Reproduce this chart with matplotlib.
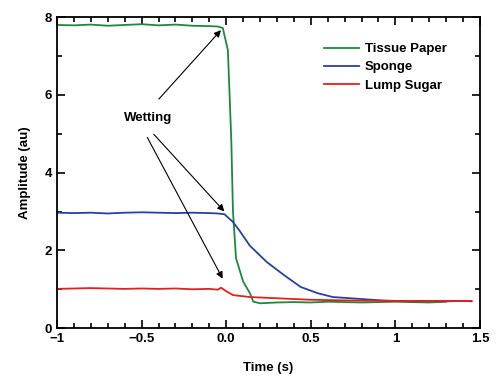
import matplotlib.pyplot as plt
from matplotlib.ticker import MultipleLocator

plt.rcParams['font.family'] = ['Liberation Sans', 'DejaVu Sans']
plt.rcParams['font.weight'] = 'bold'

# Data
t_tissue = [-1.0, -0.9, -0.8, -0.7, -0.6, -0.5, -0.4, -0.3, -0.2, -0.1, -0.05, -0.02,
            0.01, 0.03, 0.04, 0.058, 0.1, 0.14, 0.16, 0.2, 0.3, 0.4, 0.5, 0.6, 0.7,
            0.8, 0.9, 1.0, 1.1, 1.2, 1.3]
a_tissue = [7.80, 7.79, 7.81, 7.78, 7.80, 7.82, 7.79, 7.81, 7.78, 7.77, 7.76, 7.72,
            7.15, 4.85, 3.0, 1.8, 1.2, 0.9, 0.68, 0.64, 0.66, 0.67, 0.66, 0.68, 0.67,
            0.66, 0.67, 0.68, 0.67, 0.66, 0.68]

t_sponge = [-1.0, -0.9, -0.8, -0.7, -0.6, -0.5, -0.4, -0.3, -0.2, -0.1, -0.05, -0.01,
            0.04, 0.08, 0.14, 0.24, 0.34, 0.44, 0.54, 0.63, 0.73, 0.83, 0.93, 1.0,
            1.1, 1.2, 1.3, 1.4, 1.45]
a_sponge = [2.97, 2.96, 2.97, 2.95, 2.97, 2.98, 2.97, 2.96, 2.97, 2.96, 2.95, 2.93,
            2.73, 2.5, 2.12, 1.70, 1.37, 1.06, 0.90, 0.80, 0.77, 0.74, 0.71, 0.70,
            0.69, 0.70, 0.69, 0.70, 0.69]

t_sugar = [-1.0, -0.9, -0.8, -0.7, -0.6, -0.5, -0.4, -0.3, -0.2, -0.1, -0.05, -0.03,
           0.0, 0.04, 0.14, 0.24, 0.5, 0.75, 1.0, 1.2, 1.45]
a_sugar = [1.01, 1.02, 1.03, 1.02, 1.01, 1.02, 1.01, 1.02, 1.00, 1.01, 0.99, 1.04,
           0.95, 0.85, 0.80, 0.78, 0.73, 0.71, 0.70, 0.70, 0.70]

fig = plt.figure(figsize=(5, 3.82), dpi=100)
ax = fig.add_axes([0.114, 0.141, 0.846, 0.814])

ax.plot(t_tissue, a_tissue, color='#1b8a3c', lw=1.3, label='Tissue Paper')
ax.plot(t_sponge, a_sponge, color='#2b3f9c', lw=1.3, label='Sponge')
ax.plot(t_sugar, a_sugar, color='#e3201e', lw=1.3, label='Lump Sugar')

ax.set_xlim(-1, 1.5)
ax.set_ylim(0, 8)
ax.set_xticks([-1, -0.5, 0, 0.5, 1, 1.5])
ax.set_xticklabels(['\u22121', '\u22120.5', '0.0', '0.5', '1', '1.5'])
ax.set_yticks([0, 2, 4, 6, 8])
ax.xaxis.set_minor_locator(MultipleLocator(0.1))
ax.yaxis.set_minor_locator(MultipleLocator(1))
ax.tick_params(which='both', direction='in', top=True, right=True, width=1.2, labelsize=9.5)
ax.tick_params(which='major', length=6)
ax.tick_params(which='minor', length=3.5)
for s in ax.spines.values():
    s.set_linewidth(1.3)

ax.set_xlabel('Time (s)', fontsize=9.5, fontweight='bold', labelpad=12)
ax.set_ylabel('Amplitude (au)', fontsize=9.5, fontweight='bold', labelpad=10)

ax.legend(loc='upper right', frameon=False, fontsize=9.5, handlelength=2.6,
          handletextpad=0.5, bbox_to_anchor=(0.95, 0.955), labelspacing=0.45)

ax.text(-0.462, 5.40, 'Wetting', fontsize=9.5, fontweight='bold', ha='center', va='center')
arrow = dict(arrowstyle='-|>', color='black', lw=0.8, mutation_scale=10)
ax.annotate('', xy=(-0.02, 7.72), xytext=(-0.409, 5.84), arrowprops=arrow)
ax.annotate('', xy=(0.0, 2.95), xytext=(-0.439, 5.04), arrowprops=arrow)
ax.annotate('', xy=(-0.013, 1.21), xytext=(-0.474, 4.97), arrowprops=arrow)

fig.savefig('out.png', dpi=100)
